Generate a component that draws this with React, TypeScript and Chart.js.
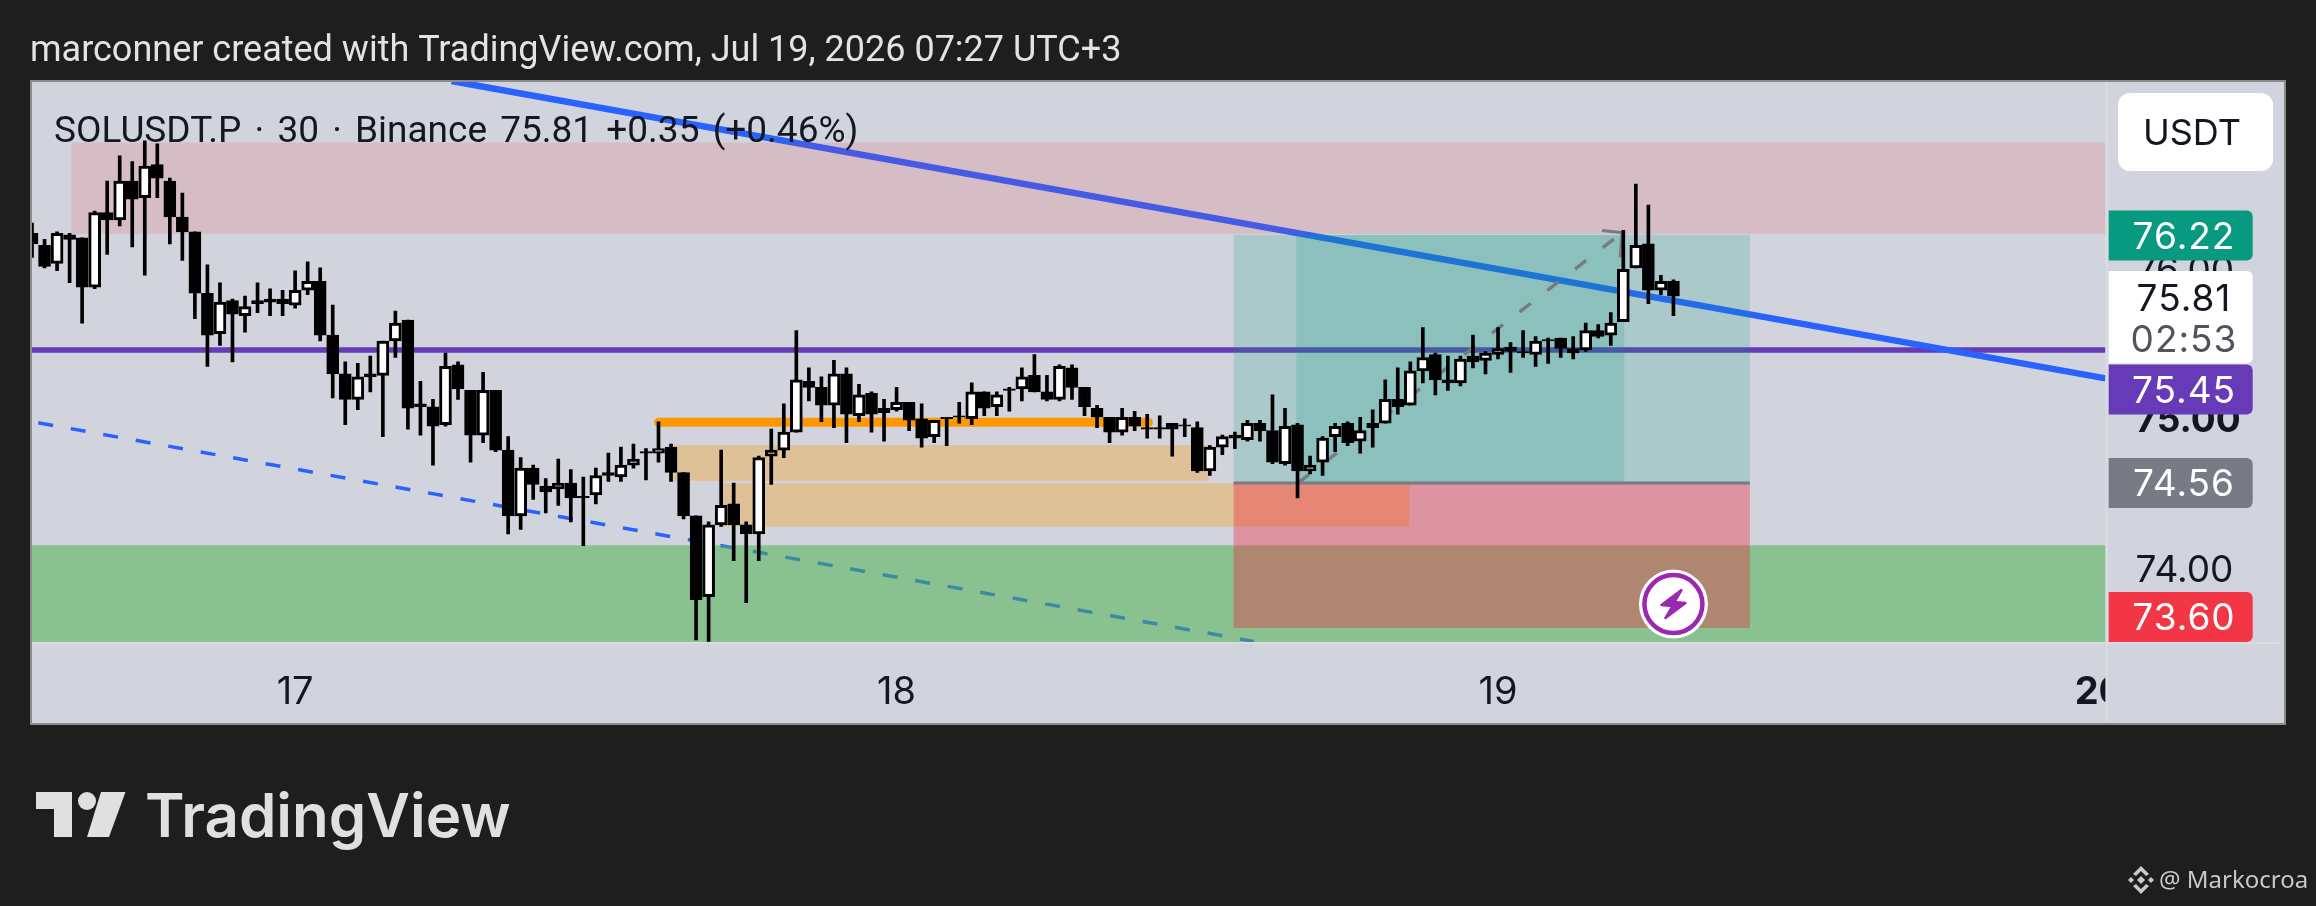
import React, { useEffect, useRef } from "react";
import { Chart, registerables } from "chart.js";

Chart.register(...registerables);

const opens = [76.23,76.15,76.03,76.22,76.20,75.87,76.37,76.32,76.58,76.47,76.69,76.58,76.34,76.24,75.83,75.56,75.78,75.68,75.78,75.79,75.79,75.75,75.85,75.91,75.55,75.29,75.12,75.29,75.28,75.51,75.65,75.09,75.07,74.95,75.35,75.18,74.88,75.18,74.78,74.34,74.66,74.54,74.52,74.56,74.47,74.48,74.63,74.60,74.68,74.77,74.76,74.80,74.63,74.34,73.80,74.28,74.42,74.28,74.22,74.74,74.78,74.90,75.24,75.20,75.08,75.29,75.01,75.16,75.06,75.05,75.10,74.99,74.87,75.00,75.01,74.99,75.17,75.07,75.19,75.19,75.28,75.17,75.12,75.33,75.20,75.06,75.00,74.90,75.00,74.93,74.93,74.96,74.95,74.93,74.64,74.80,74.88,74.85,74.96,74.91,74.69,74.95,74.64,74.70,74.87,74.96,74.84,74.96,74.96,75.12,75.08,75.31,75.42,75.25,75.23,75.41,75.38,75.42,75.47,75.44,75.42,75.52,75.53,75.46,75.45,75.58,75.55,75.64,76.00,76.16,75.85,75.91];
const highs = [76.30,76.19,76.24,76.23,76.20,76.38,76.58,76.75,76.71,76.85,76.83,76.60,76.50,76.24,76.02,75.90,75.79,75.81,75.90,75.86,75.85,75.98,76.04,76.00,75.75,75.37,75.36,75.41,75.51,75.71,75.65,75.24,75.12,75.43,75.37,75.18,75.30,75.18,74.87,74.73,74.68,74.59,74.72,74.65,74.60,74.66,74.76,74.80,74.82,74.79,74.97,74.82,74.63,74.34,74.30,74.78,74.56,74.30,74.74,74.92,75.09,75.58,75.33,75.27,75.38,75.33,75.22,75.17,75.12,75.20,75.10,75.09,74.98,75.00,75.10,75.23,75.17,75.17,75.20,75.33,75.42,75.28,75.35,75.35,75.20,75.08,75.00,75.06,75.04,75.02,75.01,74.96,74.99,74.97,74.81,74.88,74.90,74.98,74.98,75.15,75.06,74.96,74.74,74.87,74.96,74.97,75.00,75.05,75.25,75.33,75.37,75.60,75.43,75.41,75.41,75.55,75.44,75.60,75.50,75.58,75.54,75.53,75.53,75.54,75.63,75.62,75.70,76.25,76.56,76.42,75.95,75.92];
const lows = [76.07,76.00,75.98,75.90,75.63,75.86,76.09,76.28,76.14,75.95,76.47,76.16,76.05,75.66,75.34,75.48,75.37,75.57,75.70,75.68,75.68,75.73,75.82,75.51,75.13,74.95,75.05,75.17,74.87,75.40,74.92,74.88,74.68,74.94,75.12,74.70,74.83,74.77,74.22,74.25,74.45,74.36,74.41,74.30,74.14,74.42,74.57,74.57,74.66,74.58,74.70,74.57,74.32,73.51,73.50,74.27,74.04,73.76,74.04,74.55,74.73,74.90,75.11,74.97,74.93,74.83,74.97,74.90,74.84,75.04,74.91,74.80,74.83,74.81,74.96,74.95,75.01,75.01,75.04,75.11,75.17,75.11,75.11,75.12,75.01,74.93,74.83,74.88,74.91,74.86,74.86,74.74,74.87,74.63,74.61,74.75,74.79,74.84,74.84,74.69,74.68,74.46,74.62,74.61,74.77,74.81,74.76,74.80,74.96,75.02,75.08,75.23,75.15,75.18,75.21,75.33,75.29,75.39,75.30,75.40,75.34,75.36,75.40,75.39,75.44,75.53,75.48,75.64,76.00,75.76,75.82,75.68];
const closes = [76.16,76.01,76.23,76.19,75.87,76.37,76.32,76.58,76.46,76.68,76.60,76.34,76.24,75.83,75.55,75.77,75.69,75.74,75.76,75.77,75.76,75.85,75.91,75.55,75.29,75.12,75.27,75.27,75.51,75.63,75.06,75.07,74.94,75.34,75.19,74.88,75.18,74.78,74.34,74.66,74.55,74.50,74.56,74.46,74.46,74.61,74.61,74.68,74.72,74.76,74.79,74.63,74.34,73.78,74.28,74.41,74.28,74.22,74.73,74.78,74.90,75.25,75.20,75.08,75.29,75.02,75.15,75.02,75.03,75.10,74.98,74.86,74.98,74.99,75.00,75.17,75.06,75.15,75.18,75.27,75.17,75.12,75.34,75.20,75.07,75.00,74.90,75.00,74.94,74.92,74.92,74.92,74.94,74.64,74.80,74.87,74.86,74.96,74.91,74.70,74.94,74.64,74.68,74.86,74.94,74.83,74.91,74.93,75.12,75.07,75.31,75.40,75.25,75.23,75.39,75.37,75.43,75.46,75.44,75.43,75.51,75.51,75.46,75.43,75.58,75.54,75.63,75.99,76.15,75.85,75.91,75.81];

const dayTicks = [21, 69, 117, 165];
const dayLabels = ["17", "18", "19", "20"];
const priceTicks = [74, 75, 76, 77];

const pivotLevel = 75.45;
const upperChannel = [{ x: 33.48, y: 77.25 }, { x: 165.49, y: 75.26 }];
const lowerChannel = [{ x: 0.5, y: 74.963 }, { x: 97.5, y: 73.5 }];
const demandLine = [{ x: 50, y: 74.966 }, { x: 89.1, y: 74.966 }];
const entryLine = [{ x: 95.9, y: 74.56 }, { x: 137.1, y: 74.56 }];
const projection = [{ x: 101.04, y: 74.56 }, { x: 126.9, y: 76.235 }];
const projectionHead = [{ x: 125.3, y: 76.25 }, { x: 126.9, y: 76.235 }, { x: 126.75, y: 76.07 }];

const supplyZone = { x0: 3.15, x1: 165.49, hi: 76.838, lo: 76.227 };
const supportZone = { x0: -0.08, x1: 165.49, hi: 74.143, lo: 73.496 };
const orderBlockA = { x0: 51.2, x1: 93.9, hi: 74.814, lo: 74.574 };
const orderBlockB = { x0: 55, x1: 109.9, hi: 74.558, lo: 74.268 };
const targetBox = { x0: 95.9, x1: 137.1, hi: 76.22, lo: 74.56 };
const targetFill = { x0: 100.9, x1: 127.07, hi: 76.22, lo: 74.56 };
const stopBox = { x0: 95.9, x1: 137.1, hi: 74.56, lo: 73.59 };
const boltAt = { x: 131, y: 73.75 };

const tagTexts = ["76.22", "75.45", "74.56", "73.60"];
const lastPriceText = "75.81";
const countdownText = "02:53";
const titleText = "marconner created with TradingView.com, Jul 19, 2026 07:27 UTC+3";
const headerText = "SOLUSDT.P \u00b7 30 \u00b7 Binance 75.81 +0.35 (+0.46%)";

const UI = "Inter";
const AREA = { left: 31, top: 81, right: 2105.6, bottom: 642, frameRight: 2285, frameBottom: 724 };
const tagStyle = [
  { c: 235.5, bg: "#089981" },
  { c: 389.5, bg: "#673ab7" },
  { c: 483, bg: "#787b86" },
  { c: 617, bg: "#f23645" },
];

function polygon(ctx: CanvasRenderingContext2D, pts: number[][]) {
  ctx.beginPath();
  pts.forEach((p, i) => (i ? ctx.lineTo(p[0], p[1]) : ctx.moveTo(p[0], p[1])));
  ctx.closePath();
  ctx.fill();
}

const tvPlugin = {
  id: "tvPlugin",
  beforeDraw(chart: any) {
    const { ctx } = chart;
    ctx.save();
    ctx.fillStyle = "#1e1e1e";
    ctx.fillRect(0, 0, 2316, 906);
    ctx.fillStyle = "#d1d4dc";
    ctx.fillRect(AREA.left, AREA.top, AREA.frameRight - AREA.left, AREA.frameBottom - AREA.top);
    ctx.restore();
  },
  afterDatasetDraw(chart: any, args: any) {
    if (chart.data.datasets[args.index].label !== "Upper channel") return;
    const { ctx, scales } = chart;
    const rect = (z: any, color: string) => {
      const x0 = scales.x.getPixelForValue(z.x0);
      const x1 = scales.x.getPixelForValue(z.x1);
      const y0 = scales.y.getPixelForValue(z.hi);
      const y1 = scales.y.getPixelForValue(z.lo);
      ctx.fillStyle = color;
      ctx.fillRect(x0, y0, x1 - x0, y1 - y0);
    };
    ctx.save();
    rect(supplyZone, "rgba(242,54,69,0.15)");
    rect(supportZone, "rgba(76,175,80,0.53)");
    rect(orderBlockA, "rgba(255,152,0,0.31)");
    rect(orderBlockB, "rgba(255,152,0,0.31)");
    rect(targetBox, "rgba(8,153,129,0.184)");
    rect(targetFill, "rgba(8,153,129,0.184)");
    rect(stopBox, "rgba(242,36,56,0.366)");
    ctx.restore();
  },
  afterDatasetsDraw(chart: any) {
    const { ctx, scales } = chart;
    ctx.save();
    // bolt badge
    const bx = scales.x.getPixelForValue(boltAt.x);
    const by = scales.y.getPixelForValue(boltAt.y);
    ctx.fillStyle = "#ffffff";
    ctx.beginPath();
    ctx.arc(bx, by, 34.5, 0, Math.PI * 2);
    ctx.fill();
    ctx.strokeStyle = "#9c27b0";
    ctx.lineWidth = 4.5;
    ctx.beginPath();
    ctx.arc(bx, by, 29, 0, Math.PI * 2);
    ctx.stroke();
    ctx.fillStyle = "#9c27b0";
    ctx.lineWidth = 2.5;
    ctx.lineJoin = "round";
    const bolt = [
      [bx + 8, by - 14], [bx - 12, by + 1], [bx - 1, by + 2], [bx - 8, by + 14],
      [bx + 12, by - 1], [bx + 1, by - 2],
    ];
    polygon(ctx, bolt);
    ctx.stroke();
    // price-axis strip covers what overruns the pane
    ctx.fillStyle = "#d1d4dc";
    ctx.fillRect(AREA.right, AREA.top, AREA.frameRight - AREA.right, AREA.frameBottom - AREA.top);
    ctx.strokeStyle = "#dadde3";
    ctx.lineWidth = 2;
    ctx.beginPath();
    ctx.moveTo(AREA.right + 1, AREA.top);
    ctx.lineTo(AREA.right + 1, AREA.frameBottom);
    ctx.moveTo(AREA.left, AREA.bottom + 1);
    ctx.lineTo(AREA.frameRight - 6, AREA.bottom + 1);
    ctx.stroke();
    ctx.restore();
  },
  afterDraw(chart: any) {
    const { ctx } = chart;
    ctx.save();
    ctx.strokeStyle = "#8b8b8b";
    ctx.lineWidth = 2;
    ctx.strokeRect(AREA.left, AREA.top, AREA.frameRight - AREA.left, AREA.frameBottom - AREA.top);

    ctx.textBaseline = "middle";
    ctx.textAlign = "left";
    ctx.fillStyle = "#e3e3e3";
    ctx.font = "36px Roboto";
    ctx.fillText(titleText, 30, 52);
    ctx.fillStyle = "#131722";
    ctx.font = "37px Roboto";
    (ctx as any).wordSpacing = "4px";
    ctx.fillText(headerText, 54, 133);
    (ctx as any).wordSpacing = "0px";

    // USDT badge
    ctx.fillStyle = "#ffffff";
    ctx.beginPath();
    ctx.roundRect(2118, 93, 155, 78, 12);
    ctx.fill();
    ctx.fillStyle = "#131722";
    ctx.textAlign = "center";
    ctx.font = `36px ${UI}`;
    ctx.fillText("USDT", 2192, 134);

    // price tags
    const half = 25;
    ctx.font = `37px ${UI}`;
    ctx.fillStyle = "#ffffff";
    ctx.beginPath();
    ctx.roundRect(2108.7, 271, 144, 92.5, [0, 6, 6, 0]);
    ctx.fill();
    (ctx as any).letterSpacing = "1px";
    ctx.fillStyle = "#131722";
    ctx.fillText(lastPriceText, 2184, 300);
    ctx.fillStyle = "#50535e";
    ctx.fillText(countdownText, 2184, 341);
    tagStyle.forEach((t, i) => {
      ctx.fillStyle = t.bg;
      ctx.beginPath();
      ctx.roundRect(2108.7, t.c - half, 144, half * 2, [0, 6, 6, 0]);
      ctx.fill();
      ctx.fillStyle = "#ffffff";
      ctx.fillText(tagTexts[i], 2184, t.c + 2);
    });
    (ctx as any).letterSpacing = "0px";

    // TradingView logo
    ctx.fillStyle = "#e0e0e0";
    polygon(ctx, [[36, 792], [72, 792], [72, 837], [54, 837], [54, 809], [36, 809]]);
    polygon(ctx, [[101, 792], [125.5, 792], [109, 837], [87, 837]]);
    ctx.beginPath();
    ctx.arc(87, 801, 9, 0, Math.PI * 2);
    ctx.fill();
    ctx.textAlign = "left";
    ctx.textBaseline = "alphabetic";
    ctx.font = `600 60px ${UI}`;
    ctx.fillText("TradingView", 145, 837);

    // Watermark
    ctx.fillStyle = "#c9c9c9";
    const wx = 2141;
    const wy = 880;
    polygon(ctx, [[wx, wy - 4], [wx + 4, wy], [wx, wy + 4], [wx - 4, wy]]);
    polygon(ctx, [[wx - 10, wy - 3], [wx - 7, wy], [wx - 10, wy + 3], [wx - 13, wy]]);
    polygon(ctx, [[wx + 10, wy - 3], [wx + 13, wy], [wx + 10, wy + 3], [wx + 7, wy]]);
    polygon(ctx, [[wx, wy - 14], [wx + 8, wy - 6], [wx + 5, wy - 4], [wx, wy - 9], [wx - 5, wy - 4], [wx - 8, wy - 6]]);
    polygon(ctx, [[wx, wy + 14], [wx + 8, wy + 6], [wx + 5, wy + 4], [wx, wy + 9], [wx - 5, wy + 4], [wx - 8, wy + 6]]);
    ctx.font = '24px "Noto Sans"';
    ctx.fillText("@ Markocroa", 2159, 888);
    ctx.restore();
  },
};

function lineSet(label: string, data: any[], color: string, width: number, order: number, extra: any = {}) {
  return {
    type: "line" as const,
    label,
    data,
    borderColor: color,
    borderWidth: width,
    pointRadius: 0,
    tension: 0,
    order,
    ...extra,
  };
}

export default function App() {
  const ref = useRef<HTMLCanvasElement>(null);
  useEffect(() => {
    document.body.style.margin = "0";
    document.body.style.background = "#1e1e1e";
    const bars = opens.map((_, i) => i);
    const chart = new Chart(ref.current as HTMLCanvasElement, {
      type: "bar",
      data: {
        datasets: [
          lineSet("Pivot", [{ x: -0.08, y: pivotLevel }, { x: 165.49, y: pivotLevel }], "#673ab7", 5.5, 9),
          lineSet("Demand", demandLine, "#ff9800", 9, 8, { borderCapStyle: "round" }),
          lineSet("Lower channel", lowerChannel, "#2962ff", 3.5, 7, { borderDash: [15, 18] }),
          lineSet("Upper channel", upperChannel, "#2962ff", 6.5, 6),
          lineSet("Entry", entryLine, "#787b86", 3, 5),
          lineSet("Projection", projection, "#787b86", 3.5, 4, { borderDash: [14, 21] }),
          lineSet("Projection head", projectionHead, "#787b86", 3, 4),
          {
            type: "bar" as const,
            label: "Wicks",
            data: bars.map((i) => ({ x: i, y: [lows[i], highs[i]] })),
            backgroundColor: "#000000",
            barThickness: 3,
            grouped: false,
            order: 2,
          },
          {
            type: "bar" as const,
            label: "Bodies",
            data: bars.map((i) => ({ x: i, y: [opens[i], closes[i]] })),
            backgroundColor: bars.map((i) => (closes[i] >= opens[i] ? "#ffffff" : "#000000")),
            borderColor: "#000000",
            borderWidth: 3,
            borderSkipped: false,
            barThickness: 12,
            grouped: false,
            order: 1,
          },
        ] as any,
      },
      options: {
        responsive: false,
        devicePixelRatio: 1,
        animation: false,
        layout: {
          padding: { left: AREA.left, top: AREA.top, right: 2316 - AREA.frameRight, bottom: 906 - AREA.frameBottom },
        },
        plugins: { legend: { display: false }, tooltip: { enabled: false }, title: { display: false } },
        scales: {
          x: {
            type: "linear",
            offset: false,
            min: -0.08,
            max: 165.49,
            grid: { display: false },
            border: { display: false },
            afterBuildTicks: (axis: any) => {
              axis.ticks = dayTicks.map((value) => ({ value }));
            },
            afterFit: (axis: any) => {
              axis.height = AREA.frameBottom - AREA.bottom;
            },
            ticks: {
              autoSkip: false,
              maxRotation: 0,
              padding: 20,
              color: "#131722",
              callback: (v: any) => dayLabels[dayTicks.indexOf(Number(v))],
              font: (c: any) => ({
                family: UI,
                size: 38,
                weight: c.tick && c.tick.value === 165 ? "bold" : "normal",
              }),
            },
          },
          y: {
            type: "linear",
            position: "right",
            min: 73.496,
            max: 77.25,
            grid: { display: false },
            border: { display: false },
            afterBuildTicks: (axis: any) => {
              axis.ticks = priceTicks.map((value) => ({ value }));
            },
            afterFit: (axis: any) => {
              axis.width = AREA.frameRight - AREA.right;
            },
            ticks: {
              z: 1,
              padding: 22,
              color: "#131722",
              callback: (v: any) => ["", Number(v).toFixed(2)],
              font: (c: any) => ({
                family: UI,
                size: 37,
                lineHeight: 0.2,
                weight: c.tick && c.tick.value === 75 ? "bold" : "normal",
              }),
            },
          },
        },
      } as any,
      plugins: [tvPlugin as any],
    });
    return () => chart.destroy();
  }, []);
  return (
    <div style={{ position: "fixed", left: 0, top: 0, width: 2316, height: 906 }}>
      <canvas ref={ref} width={2316} height={906} style={{ display: "block", width: 2316, height: 906 }} />
    </div>
  );
}
